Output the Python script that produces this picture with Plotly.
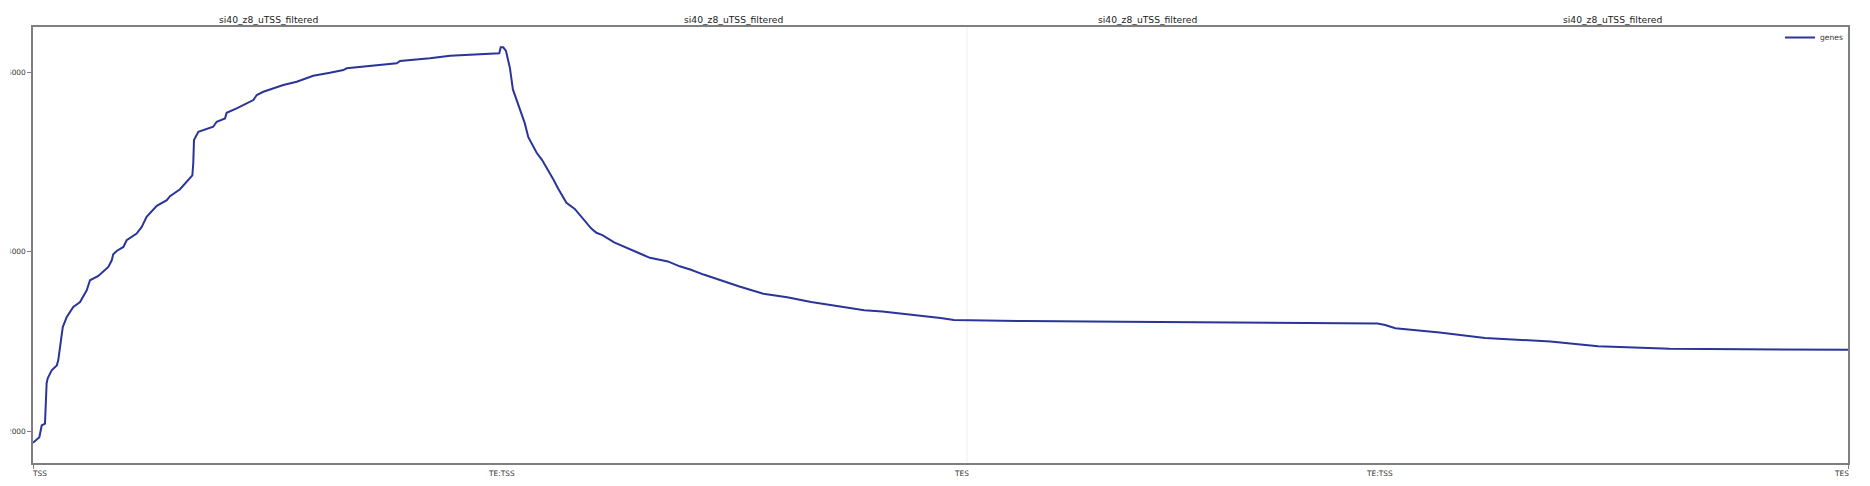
import plotly.graph_objects as go

# Profile values (x in bins 0..1000 across the metagene, y in signal units)
x_vals = [0, 3.5, 4.8, 6.6, 7.5, 8.1, 10.3, 13.1, 13.9, 14.9, 16.4, 18.6, 22.2, 25.9, 29.6, 31.4,
          36.0, 41.5, 43.4, 44.2, 46.1, 49.8, 51.6, 57.1, 59.9, 62.6, 68.2, 73.7, 75.5, 81.0, 84.7,
          87.8, 88.3, 88.7, 91.1, 99.3, 101.2, 105.8, 106.7, 112.2, 121.4, 123.3, 126.9, 137.9,
          145.3, 154.4, 163.6, 171.0, 172.8, 182.0, 200.4, 202.2, 218.7, 229.8, 244.5, 256.9,
          257.7, 259.1, 260.6, 262.8, 264.4, 266.5, 269.0, 270.9, 272.9, 275.0, 277.5, 280.5,
          284.1, 286.8, 289.3, 291.8, 293.9, 298.5, 303.8, 307.5, 310.4, 313.7, 320.2, 325.0,
          330.1, 335.0, 339.9, 349.8, 356.3, 362.5, 369.5, 379.0, 389.2, 402.4, 415.5, 428.7,
          441.8, 448.3, 458.0, 468.0, 481.2, 494.3, 500.0, 507.4, 546.9, 600.0, 665.2, 700.0,
          740.8, 745.0, 750.6, 775.0, 796.6, 800.0, 836.0, 862.3, 901.8, 950.0, 1000]
y_vals = [1874, 1936, 2067, 2086, 2535, 2591, 2680, 2735, 2791, 2925, 3162, 3274, 3385, 3441, 3571,
          3682, 3730, 3831, 3905, 3972, 4009, 4053, 4128, 4203, 4276, 4388, 4510, 4574, 4618, 4696,
          4778, 4849, 4983, 5242, 5335, 5391, 5446, 5484, 5547, 5596, 5688, 5744, 5780, 5855, 5892,
          5959, 5992, 6022, 6041, 6059, 6097, 6123, 6153, 6182, 6193, 6208, 6275, 6275, 6234, 6041,
          5806, 5690, 5540, 5434, 5275, 5200, 5101, 5020, 4903, 4800, 4703, 4620, 4544, 4477, 4344,
          4260, 4211, 4185, 4105, 4060, 4012, 3975, 3932, 3892, 3838, 3800, 3746, 3680, 3613, 3533,
          3493, 3441, 3401, 3374, 3350, 3334, 3307, 3281, 3262, 3241, 3228, 3222, 3214, 3208,
          3201, 3185, 3148, 3100, 3055, 3040, 3002, 2948, 2921, 2915, 2908]

series_name = "genes"
panel_title = "si40_z8_uTSS_filtered"
title_positions = [129.5, 385.7, 613.8, 870.0]
tick_labels = ["TSS", "TE:TSS", "TES", "TE:TSS", "TES"]
tick_positions = [0, 257.9, 511.3, 742.1, 1000]
y_ticks = [2000, 4000, 6000]

W, H = 1870, 486
L, R, T, B = 33, 22, 27, 23
plot_w = W - L - R
plot_h = H - T - B

fig = go.Figure()
fig.add_trace(go.Scatter(x=x_vals, y=y_vals, mode="lines", name=series_name,
                         line=dict(color="#2a3597", width=2)))

font_family = "DejaVu Sans"
annotations = []
for xp in title_positions:
    annotations.append(dict(x=xp, xref="x", y=1 + 8 / plot_h, yref="paper", text=panel_title,
                            showarrow=False, xanchor="center", yanchor="middle",
                            font=dict(family=font_family, size=9.2, color="#222222")))
anchors = ["left", "center", "center", "center", "right"]
shifts = [-3, 0, 0, 0, 3]
for pos, lab, anc, sh in zip(tick_positions, tick_labels, anchors, shifts):
    annotations.append(dict(x=pos, xref="x", y=-10 / plot_h, yref="paper", text=lab,
                            showarrow=False, xanchor=anc, yanchor="middle", xshift=sh,
                            font=dict(family=font_family, size=7.4, color="#333333")))

shapes = [
    dict(type="line", xref="x", yref="paper", x0=514.6, x1=514.6, y0=0, y1=1,
         line=dict(color="#f0f0f0", width=1), layer="below"),
    dict(type="rect", xref="paper", yref="paper", x0=-L / plot_w, x1=-22.5 / plot_w,
         y0=0, y1=1, fillcolor="white", line=dict(width=0), layer="above"),
]

fig.update_layout(
    width=W, height=H,
    margin=dict(l=L, r=R, t=T, b=B, autoexpand=False),
    paper_bgcolor="white", plot_bgcolor="white",
    font=dict(family=font_family, size=8, color="#333333"),
    showlegend=True,
    legend=dict(x=1, xanchor="right", y=1 + 4 / plot_h, yanchor="top", bgcolor="rgba(0,0,0,0)",
                font=dict(family=font_family, size=7.6, color="#333333"), itemwidth=30),
    annotations=annotations,
    shapes=shapes,
)
fig.update_xaxes(range=[0, 1000], showgrid=False, zeroline=False, showline=True, mirror=True,
                 linecolor="#7f7f7f", linewidth=1.5, ticks="outside", ticklen=4, automargin=False,
                 tickcolor="#7f7f7f", tickvals=[0, 1000], showticklabels=False)
fig.update_yaxes(range=[1649, 6501], showgrid=False, zeroline=False, showline=True, mirror=True,
                 linecolor="#7f7f7f", linewidth=1.5, ticks="outside", ticklen=4, automargin=False,
                 tickcolor="#7f7f7f", tickvals=y_ticks, tickfont=dict(size=7.4, color="#333333"))

fig.write_html("out.html", config={"displayModeBar": False},
               post_script="document.body.style.margin='0px';document.body.style.overflow='hidden';")
